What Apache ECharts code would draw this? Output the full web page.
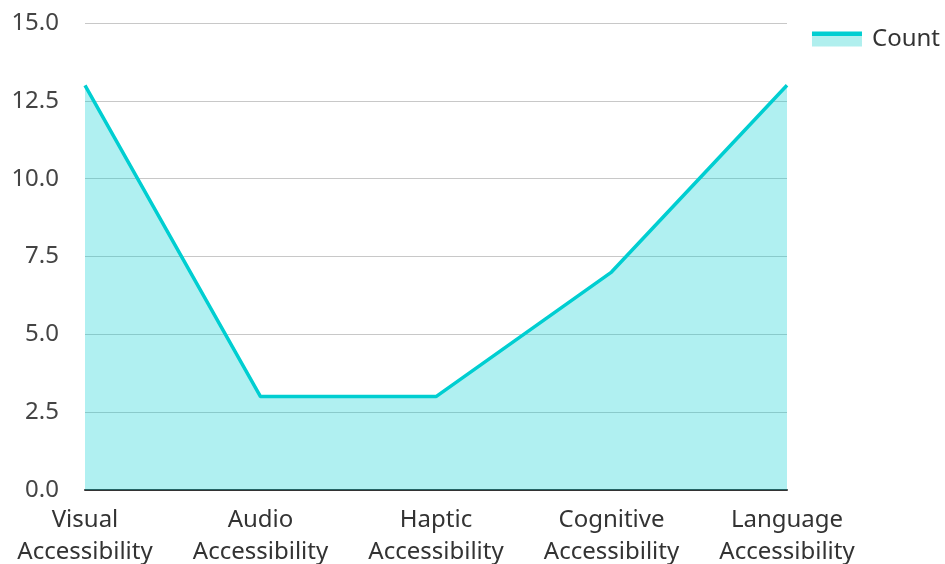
<!DOCTYPE html>
<html><head><meta charset="utf-8">
<script src="https://cdn.jsdelivr.net/npm/echarts@6/dist/echarts.min.js"></script>
<style>html,body{margin:0;padding:0;background:#fff}#c{width:945px;height:564px}</style>
</head><body><div id="c"></div>
<script>
const categories = ["Visual\nAccessibility","Audio\nAccessibility","Haptic\nAccessibility","Cognitive\nAccessibility","Language\nAccessibility"];
const counts = [13, 3, 3, 7, 13];
const seriesName = "Count";
const lineColor = '#00CED1';
const areaColor = 'rgba(0,206,209,0.31)';
const chart = echarts.init(document.getElementById('c'));
chart.setOption({
  animation:false,
  textStyle:{fontFamily:'Noto Sans'},
  grid:{left:85,right:158,top:23,bottom:74,containLabel:false,outerBoundsMode:'none'},
  legend:{right:0,top:22,itemWidth:50,itemHeight:15,itemGap:10,icon:'rect',
    itemStyle:{color:{type:'linear',x:0,y:0,x2:0,y2:1,colorStops:[
      {offset:0,color:lineColor},{offset:0.27,color:lineColor},
      {offset:0.27,color:'#B0EFEE'},{offset:1,color:'#B0EFEE'}]},borderWidth:0},
    lineStyle:{width:0},
    textStyle:{fontSize:24,color:'#333',fontFamily:'Noto Sans',padding:[0,0,0,5]},data:[seriesName]},
  xAxis:{type:'category',boundaryGap:false,data:categories,
    axisLine:{lineStyle:{color:'#333',width:2}},axisTick:{show:false},
    axisLabel:{fontSize:24,color:'#333',lineHeight:32,margin:14,interval:0}},
  yAxis:{type:'value',min:0,max:15,interval:2.5,
    axisLabel:{fontSize:24,color:'#444',margin:26,formatter:v=>v.toFixed(1)},
    splitLine:{lineStyle:{color:'#c8c8c8',width:1}},axisLine:{show:false}},
  series:[{name:seriesName,type:'line',data:counts,showSymbol:false,symbol:'none',
    lineStyle:{color:lineColor,width:3.5},itemStyle:{color:lineColor},
    areaStyle:{color:areaColor,opacity:1}}]
});
</script></body></html>
